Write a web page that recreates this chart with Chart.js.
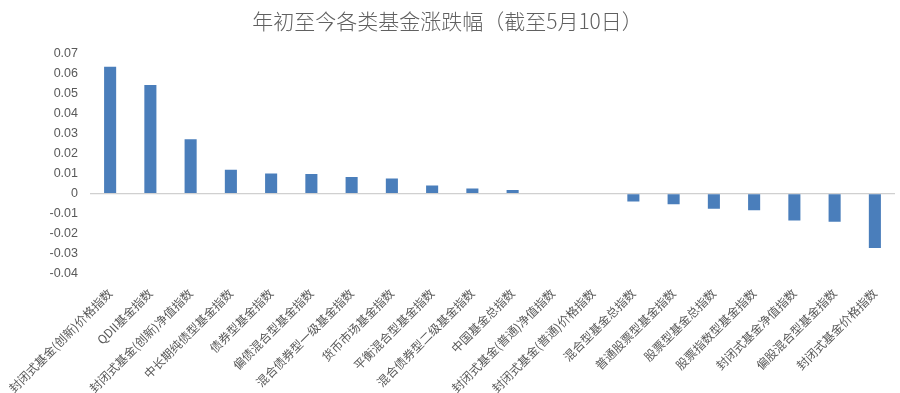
<!DOCTYPE html>
<html>
<head>
<meta charset="utf-8">
<script src="https://cdn.jsdelivr.net/npm/chart.js@4/dist/chart.umd.min.js"></script>
<style>
  html, body { margin: 0; padding: 0; background: #fff; }
  #wrap { width: 900px; height: 393px; }
</style>
</head>
<body>
<div id="wrap"><canvas id="fundChart" width="900" height="393"></canvas></div>
<script>
const chartTitle = "年初至今各类基金涨跌幅（截至5月10日）";

const categories = [
  "封闭式基金(创新)价格指数", "QDII基金指数", "封闭式基金(创新)净值指数", "中长期纯债型基金指数",
  "债券型基金指数", "偏债混合型基金指数", "混合债券型一级基金指数", "货币市场基金指数",
  "平衡混合型基金指数", "混合债券型二级基金指数", "中国基金总指数", "封闭式基金(普通)净值指数",
  "封闭式基金(普通)价格指数", "混合型基金总指数", "普通股票型基金指数", "股票型基金总指数",
  "股票指数型基金指数", "封闭式基金净值指数", "偏股混合型基金指数", "封闭式基金价格指数"
];

const ytdChange = [
  0.0632, 0.0542, 0.0271, 0.0119,
  0.0101, 0.0098, 0.0083, 0.0076,
  0.0041, 0.0026, 0.0018, 0,
  0, -0.0039, -0.0052, -0.0075,
  -0.0082, -0.0134, -0.0140, -0.0270
];

const yTicks = [0.07, 0.06, 0.05, 0.04, 0.03, 0.02, 0.01, 0, -0.01, -0.02, -0.03, -0.04];

const textGray = "#595959";

new Chart(document.getElementById("fundChart"), {
  type: "bar",
  data: {
    labels: categories,
    datasets: [{
      data: ytdChange,
      backgroundColor: "#4a7ebb",
      borderWidth: 0,
      categoryPercentage: 1,
      barPercentage: 0.3
    }]
  },
  options: {
    responsive: false,
    animation: false,
    layout: { padding: { left: 0, right: 5, top: 0, bottom: 0 } },
    plugins: {
      legend: { display: false },
      tooltip: { enabled: false },
      title: {
        display: true,
        text: chartTitle,
        color: "#606060",
        font: { family: "'Noto Sans CJK SC'", size: 21, weight: "300", lineHeight: 1.2 },
        padding: { top: 8, bottom: 20 }
      }
    },
    scales: {
      x: {
        grid: { display: false },
        border: { display: false },
        ticks: {
          color: textGray,
          font: { family: "'Noto Sans CJK SC'", size: 12 },
          minRotation: 45,
          maxRotation: 45,
          autoSkip: false,
          padding: 4
        },
        afterFit: s => { s.height = 119; }
      },
      y: {
        min: yTicks[yTicks.length - 1],
        max: yTicks[0],
        afterBuildTicks: s => { s.ticks = yTicks.map(v => ({ value: v })); },
        grid: {
          drawTicks: false,
          color: c => (c.tick && c.tick.value === 0 ? "#d0d0d0" : "rgba(0,0,0,0)"),
          lineWidth: 1.2
        },
        border: { display: false },
        ticks: {
          color: textGray,
          font: { family: "'Liberation Sans'", size: 12.5 },
          padding: 12,
          callback: v => String(Number(v.toFixed(2)))
        },
        afterFit: s => { s.width = 90; }
      }
    }
  }
});
</script>
</body>
</html>
